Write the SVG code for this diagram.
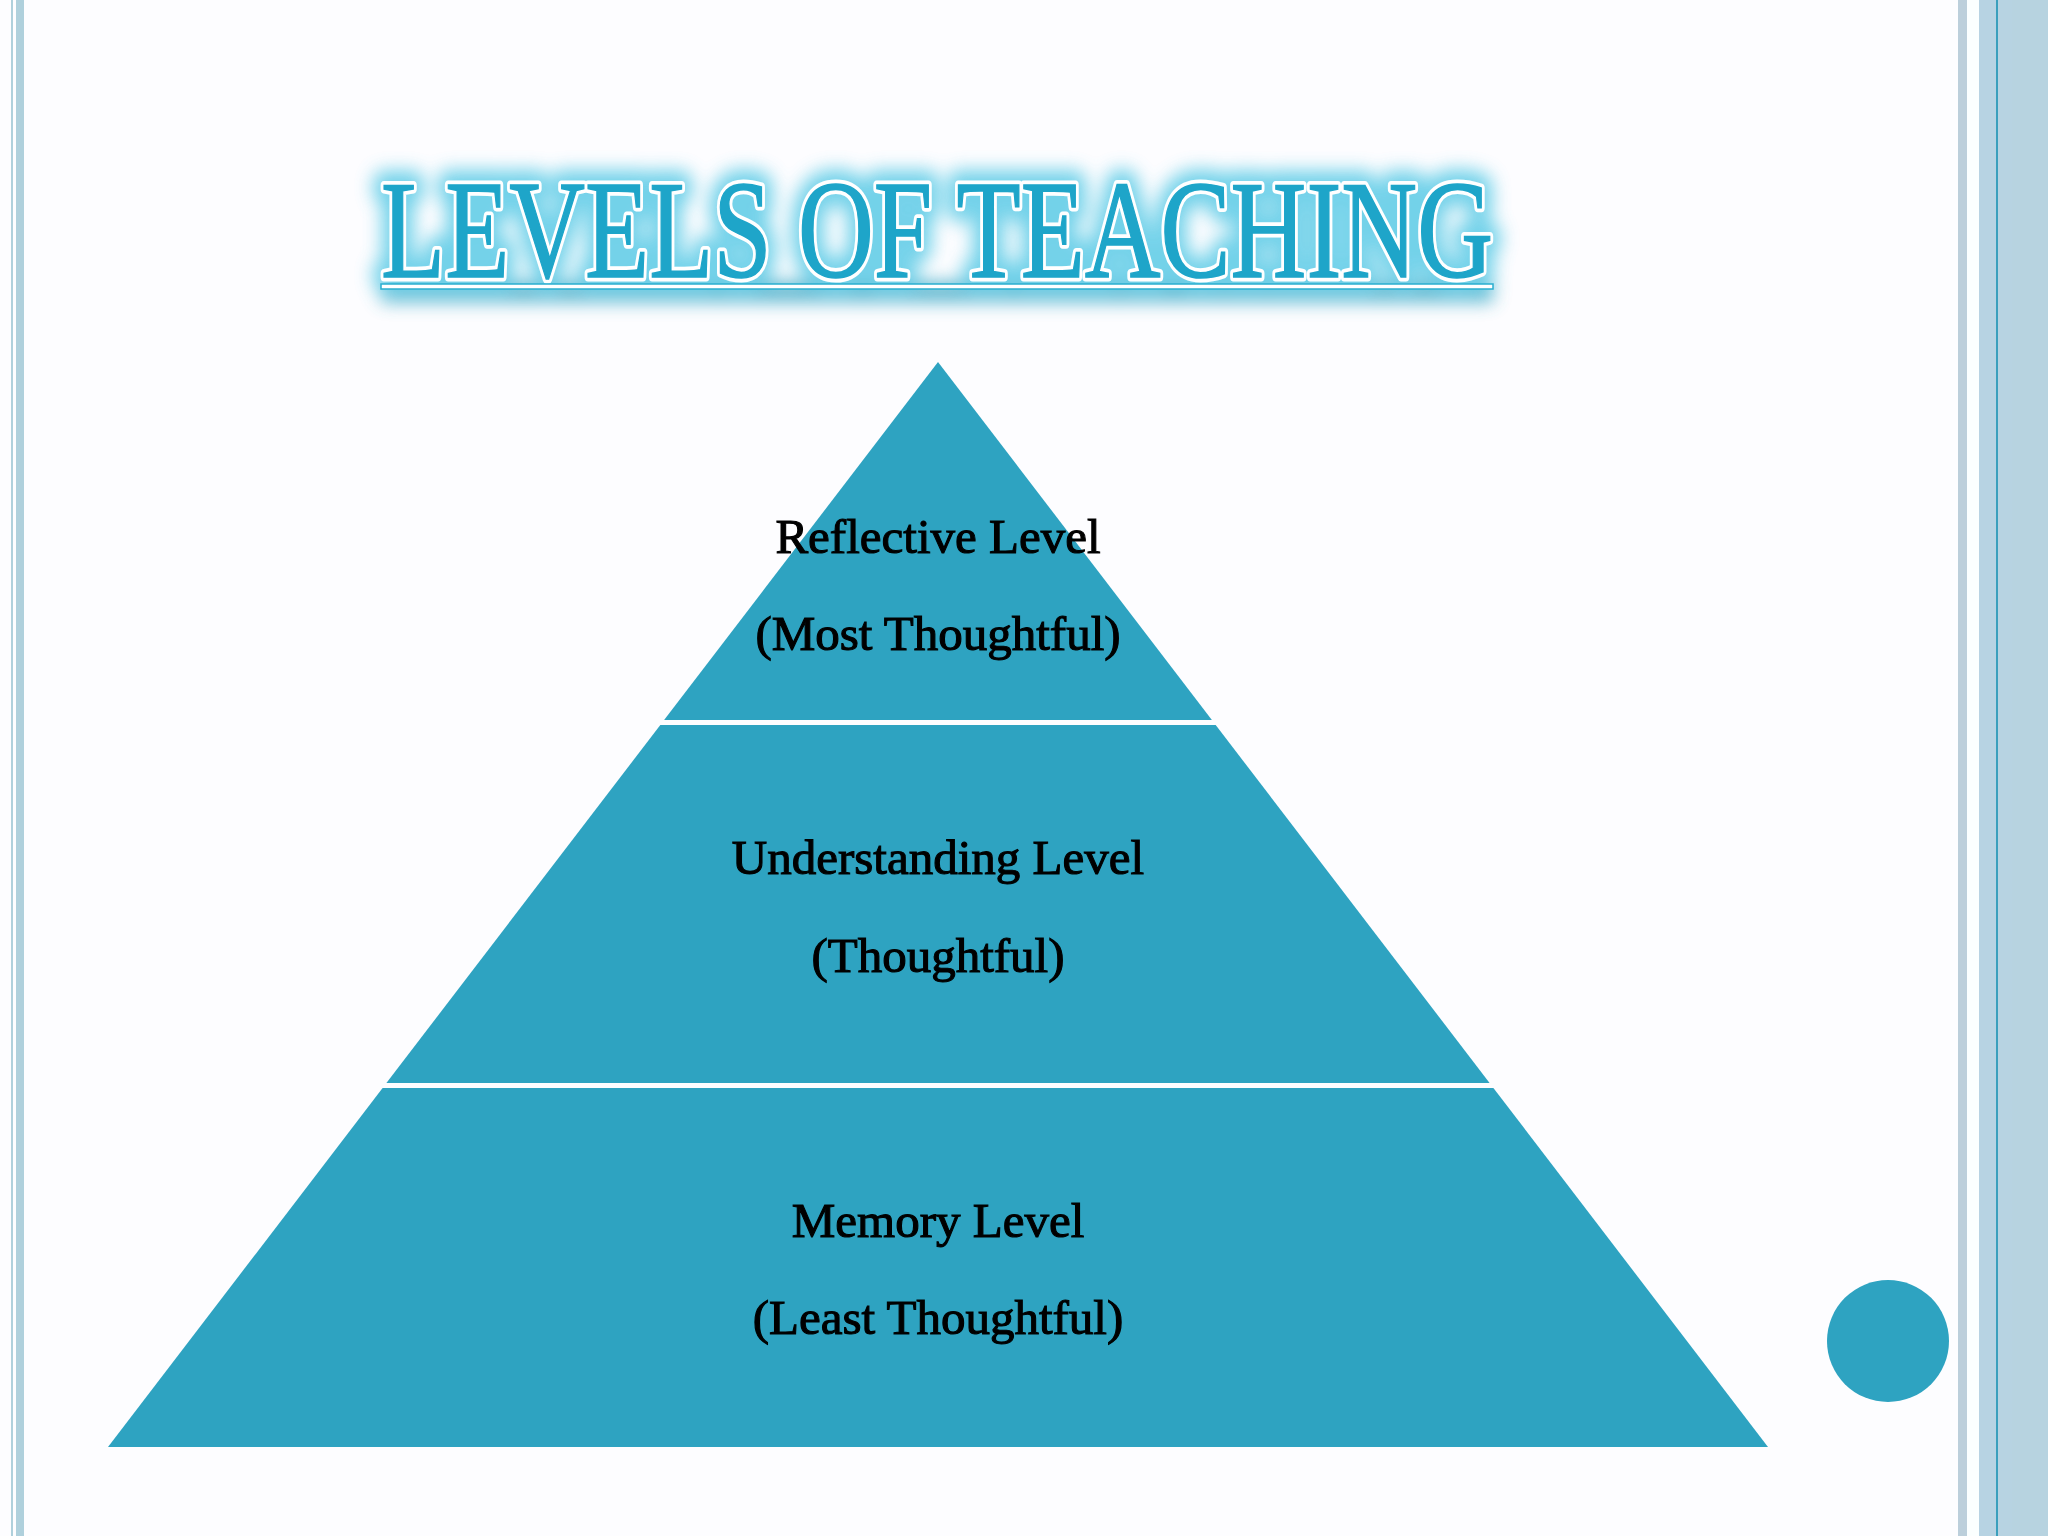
<svg xmlns="http://www.w3.org/2000/svg" width="2048" height="1536" viewBox="0 0 2048 1536">
<defs>
<style>
.tier{fill:#2ea3c1}
.lbl{font-family:"Liberation Serif","Times New Roman",serif;font-size:49px;fill:#000;stroke:#000;stroke-width:1.1;text-anchor:middle}
.ttl{font-family:"Liberation Serif","Times New Roman",serif;font-size:140px}
.bd{fill:#b7d3e0}
</style>
<filter id="glow" x="-10%" y="-50%" width="120%" height="200%">
<feGaussianBlur stdDeviation="9"/>
</filter>
</defs>
<rect x="0" y="0" width="2048" height="1536" fill="#fdfdff"/>

<g id="border-left">
<rect x="11" y="0" width="2" height="1536" fill="#afd0dc"/>
<rect x="16" y="0" width="8" height="1536" fill="#afd0dc"/>
</g>
<g id="border-right">
<rect x="1958" y="0" width="9" height="1536" fill="#bccfdb"/>
<rect x="1967" y="0" width="12" height="1536" fill="#fbffff"/>
<rect x="1979" y="0" width="17" height="1536" fill="#b7d3e3"/>
<rect x="1996" y="0" width="2" height="1536" fill="#3a9fbd"/>
<rect x="1998" y="0" width="14" height="1536" fill="#b7d3e2"/>
<rect x="2012" y="0" width="36" height="1536" class="bd"/>
</g>

<g id="title">
<g filter="url(#glow)" opacity="0.85">
<rect x="381" y="282" width="1112" height="20" fill="#3ea9c6"/>
<text class="ttl" x="381" y="281" textLength="1112" lengthAdjust="spacingAndGlyphs" fill="#3aa6c4" stroke="#3aa6c4" stroke-width="24" stroke-linejoin="round">LEVELS OF TEACHING</text>
<text class="ttl" x="381" y="277" textLength="1112" lengthAdjust="spacingAndGlyphs" fill="#5ccbe6" stroke="#5ccbe6" stroke-width="30" stroke-linejoin="round">LEVELS OF TEACHING</text>
</g>
<text class="ttl" x="381" y="277" textLength="1112" lengthAdjust="spacingAndGlyphs" fill="#ffffff" stroke="#ffffff" stroke-width="9" stroke-linejoin="round">LEVELS OF TEACHING</text>
<text class="ttl" x="381" y="277" textLength="1112" lengthAdjust="spacingAndGlyphs" fill="#1ea5c9" stroke="#1ea5c9" stroke-width="1.5">LEVELS OF TEACHING</text>
<rect x="381" y="284" width="1112" height="5" fill="#ffffff" stroke="#2aaecf" stroke-width="1.5"/>
</g>

<g id="tier-reflective">
<polygon class="tier" points="938,362 1211.9,720 664.1,720"/>
<text class="lbl" x="938" y="553">Reflective Level</text>
<text class="lbl" x="938" y="650">(Most Thoughtful)</text>
</g>
<g id="tier-understanding">
<polygon class="tier" points="660.3,725 1215.7,725 1489.6,1083 386.4,1083"/>
<text class="lbl" x="938" y="874">Understanding Level</text>
<text class="lbl" x="938" y="972">(Thoughtful)</text>
</g>
<g id="tier-memory">
<polygon class="tier" points="382.6,1088 1493.4,1088 1768,1447 108,1447"/>
<text class="lbl" x="938" y="1237">Memory Level</text>
<text class="lbl" x="938" y="1334">(Least Thoughtful)</text>
</g>
<g id="dot">
<circle cx="1888" cy="1341" r="61" fill="#2ea3c1"/>
</g>
<g id="connectors"/>
</svg>
